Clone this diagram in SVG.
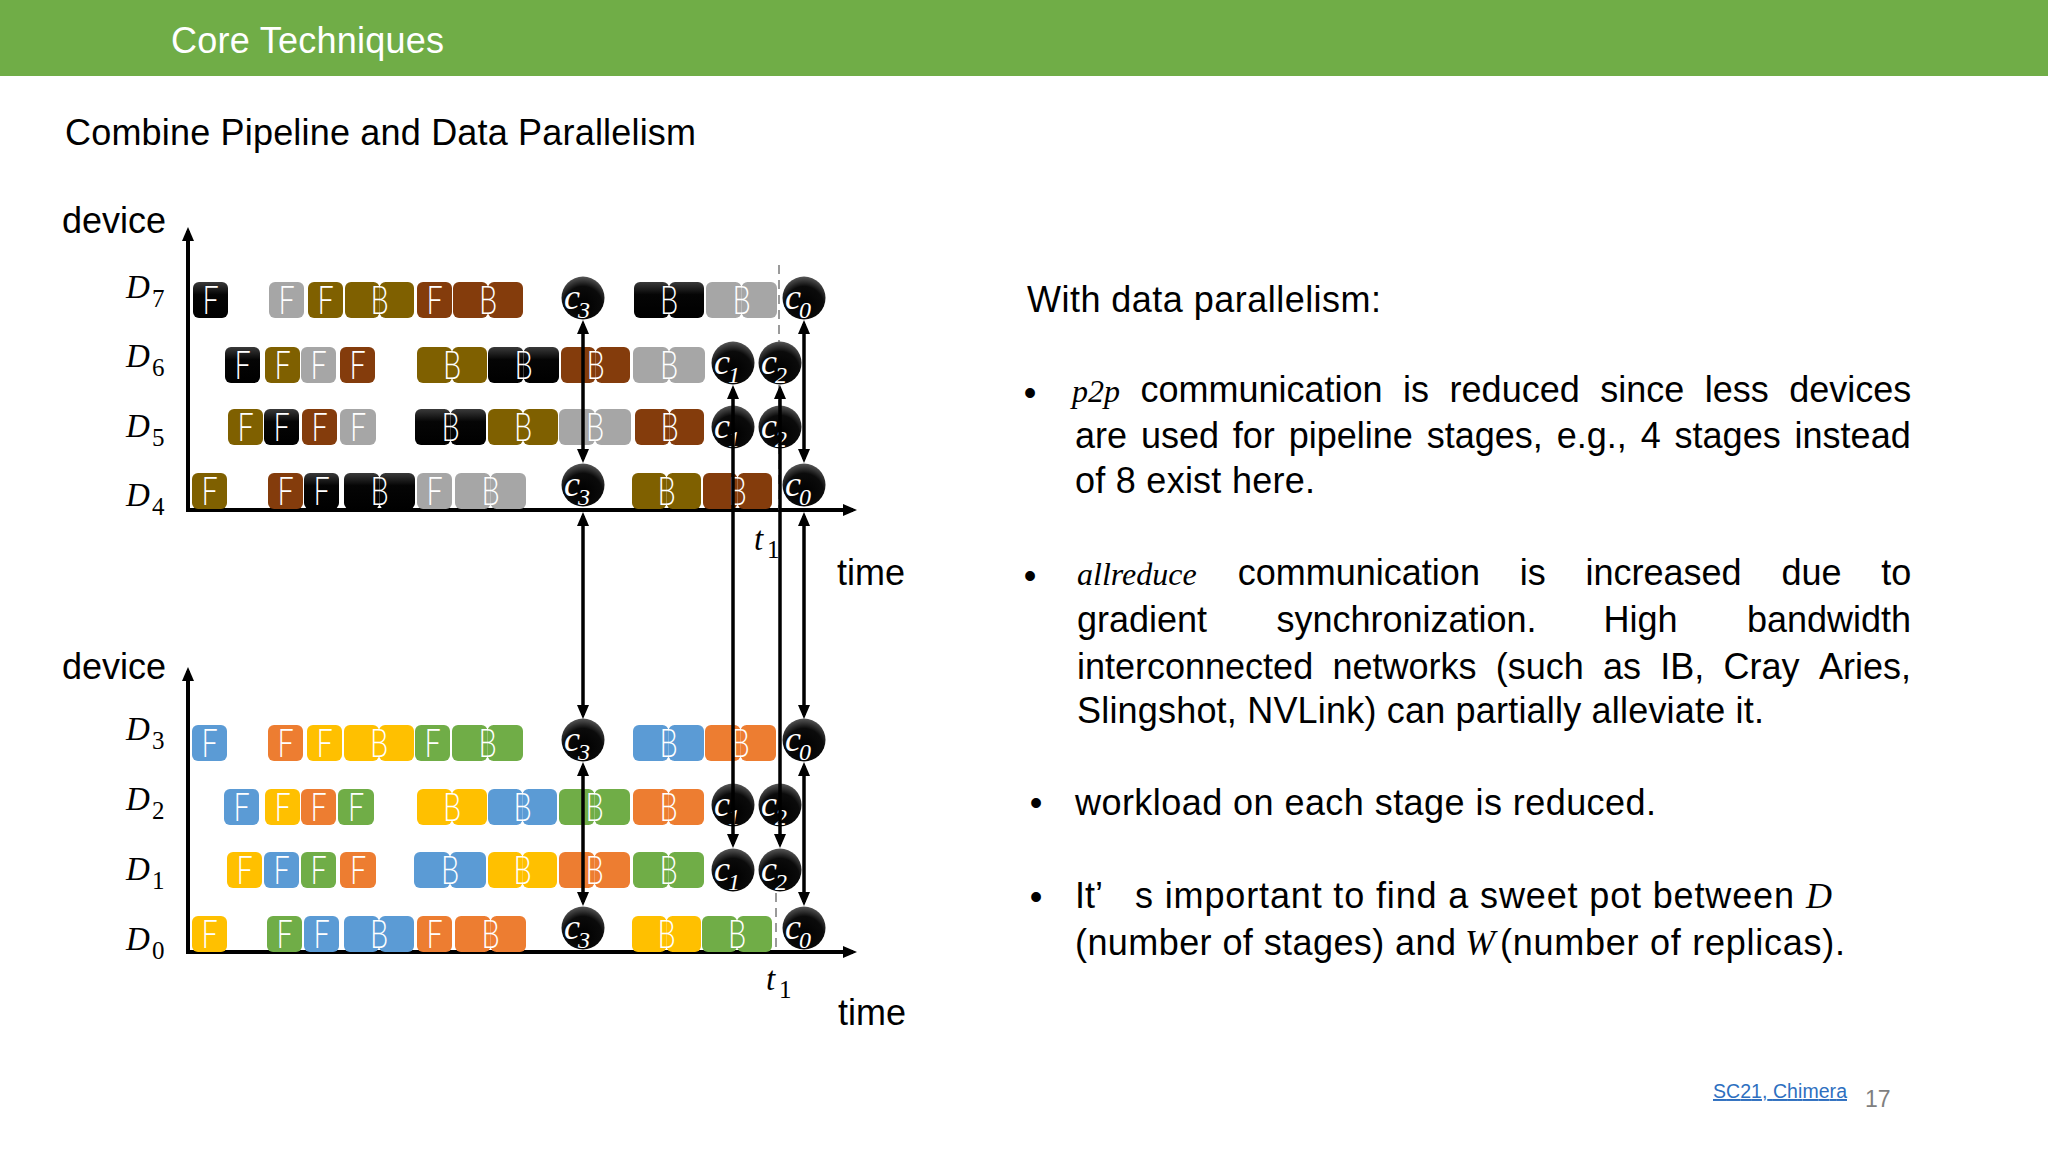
<svg xmlns="http://www.w3.org/2000/svg" width="2048" height="1152" viewBox="0 0 2048 1152">
<defs>
<linearGradient id="gk" x1="0" y1="0" x2="0" y2="1"><stop offset="0" stop-color="#3a3a3a"/><stop offset="0.35" stop-color="#050505"/><stop offset="1" stop-color="#000"/></linearGradient>
<radialGradient id="gc" cx="0.5" cy="0.68" r="0.75"><stop offset="0" stop-color="#000"/><stop offset="0.6" stop-color="#0b0b0b"/><stop offset="1" stop-color="#6e6e6e"/></radialGradient>
<marker id="ah" viewBox="0 0 14 12" refX="10" refY="6" markerWidth="14" markerHeight="12" markerUnits="userSpaceOnUse" orient="auto-start-reverse"><path d="M0,0 L14,6 L0,12 z" fill="#000"/></marker>
<style>
.k{fill:url(#gk)} .g{fill:#A6A6A6} .o{fill:#7F6000} .r{fill:#843C0C}
.b{fill:#5B9BD5} .or{fill:#ED7D31} .y{fill:#FFC000} .gr{fill:#70AD47}
rect.blk{stroke:none}
.bl{font-family:Lato,"Liberation Sans",sans-serif;font-weight:300;font-size:40px;fill:#fff;text-anchor:middle}
.cc{fill:url(#gc)}
.cl{font-family:"Liberation Serif",serif;font-style:italic;font-size:36px;fill:#fff}
.cs{font-family:"Liberation Serif",serif;font-size:24px;fill:#fff}
.dl{font-family:"Liberation Serif",serif;font-style:italic;font-size:33px;fill:#000}
.ds{font-family:"Liberation Serif",serif;font-style:normal;font-size:25px;fill:#000}
.tx{font-family:"Liberation Sans",sans-serif;font-size:36px;fill:#000}
.it{font-family:"Liberation Serif",serif;font-style:italic;font-size:36px;fill:#000}
.sc{font-family:"Liberation Serif",serif;font-style:italic;font-size:32px;fill:#000}
.ax{stroke:#000;stroke-width:4;fill:none}
.ar{stroke:#000;stroke-width:3.5;fill:none}
.dash{stroke:#9a9a9a;stroke-width:2;stroke-dasharray:9 6;fill:none}
</style>
</defs>
<rect width="2048" height="1152" fill="#fff"/>
<g id="header">
<rect x="0" y="0" width="2048" height="76" fill="#70AD47"/>
<text x="171" y="53" font-family="Liberation Sans, sans-serif" font-size="36" fill="#fff" textLength="273">Core Techniques</text>
</g>
<text id="title" class="tx" x="65" y="145" textLength="631">Combine Pipeline and Data Parallelism</text>

<g id="axes">
<text class="tx" x="62" y="233" textLength="104">device</text>
<text class="tx" x="62" y="679" textLength="104">device</text>
<text class="tx" x="837" y="585">time</text>
<text class="tx" x="838" y="1025">time</text>
<line class="ax" x1="188" y1="510" x2="853" y2="510" marker-end="url(#ah)"/>
<line class="ax" x1="188" y1="512" x2="188" y2="231" marker-end="url(#ah)"/>
<line class="ax" x1="188" y1="952" x2="853" y2="952" marker-end="url(#ah)"/>
<line class="ax" x1="188" y1="954" x2="188" y2="671" marker-end="url(#ah)"/>
<text class="dl" x="126" y="298">D<tspan class="ds" x="152" y="307">7</tspan></text>
<text class="dl" x="126" y="367">D<tspan class="ds" x="152" y="376">6</tspan></text>
<text class="dl" x="126" y="437">D<tspan class="ds" x="152" y="446">5</tspan></text>
<text class="dl" x="126" y="506">D<tspan class="ds" x="152" y="515">4</tspan></text>
<text class="dl" x="126" y="740">D<tspan class="ds" x="152" y="749">3</tspan></text>
<text class="dl" x="126" y="810">D<tspan class="ds" x="152" y="819">2</tspan></text>
<text class="dl" x="126" y="880">D<tspan class="ds" x="152" y="889">1</tspan></text>
<text class="dl" x="126" y="950">D<tspan class="ds" x="152" y="959">0</tspan></text>
<text class="dl" x="754" y="550" font-size="38">t<tspan class="ds" x="767" y="558">1</tspan></text>
<text class="dl" x="766" y="990" font-size="38">t<tspan class="ds" x="779" y="998">1</tspan></text>
<line class="dash" x1="779" y1="265" x2="779" y2="510"/>
<line class="dash" x1="776" y1="893" x2="776" y2="952"/>
</g>

<g id="row-D7">
<g id="d7-1"><rect class="blk k" x="193" y="282" width="35" height="36" rx="6"/><text class="bl" transform="translate(210.5,314) scale(0.72,1)">F</text></g>
<g id="d7-2"><rect class="blk g" x="269" y="282" width="35" height="36" rx="6"/><text class="bl" transform="translate(286.5,314) scale(0.72,1)">F</text></g>
<g id="d7-3"><rect class="blk o" x="308" y="282" width="35" height="36" rx="6"/><text class="bl" transform="translate(325.5,314) scale(0.72,1)">F</text></g>
<g id="d7-4"><rect class="blk o" x="345" y="282" width="34.5" height="36" rx="6"/><rect class="blk o" x="379.5" y="282" width="34.5" height="36" rx="6"/><text class="bl" transform="translate(379.5,314) scale(0.72,1)">B</text></g>
<g id="d7-5"><rect class="blk r" x="417" y="282" width="35" height="36" rx="6"/><text class="bl" transform="translate(434.5,314) scale(0.72,1)">F</text></g>
<g id="d7-6"><rect class="blk r" x="453" y="282" width="35" height="36" rx="6"/><rect class="blk r" x="488" y="282" width="35" height="36" rx="6"/><text class="bl" transform="translate(488,314) scale(0.72,1)">B</text></g>
<g id="d7-c3"><circle class="cc" cx="583" cy="298" r="21.5"/><text class="cl" x="564" y="309">c<tspan class="cs" x="578" y="318">3</tspan></text></g>
<g id="d7-7"><rect class="blk k" x="634" y="282" width="35" height="36" rx="6"/><rect class="blk k" x="669" y="282" width="35" height="36" rx="6"/><text class="bl" transform="translate(669,314) scale(0.72,1)">B</text></g>
<g id="d7-8"><rect class="blk g" x="706" y="282" width="35.5" height="36" rx="6"/><rect class="blk g" x="741.5" y="282" width="35.5" height="36" rx="6"/><text class="bl" transform="translate(741.5,314) scale(0.72,1)">B</text></g>
<g id="d7-c0"><circle class="cc" cx="804" cy="298" r="21.5"/><text class="cl" x="785" y="309">c<tspan class="cs" x="799" y="318">0</tspan></text></g>
</g>

<g id="row-D6">
<g id="d6-1"><rect class="blk k" x="225" y="347" width="35" height="36" rx="6"/><text class="bl" transform="translate(242.5,379) scale(0.72,1)">F</text></g>
<g id="d6-2"><rect class="blk o" x="265" y="347" width="35" height="36" rx="6"/><text class="bl" transform="translate(282.5,379) scale(0.72,1)">F</text></g>
<g id="d6-3"><rect class="blk g" x="301" y="347" width="35" height="36" rx="6"/><text class="bl" transform="translate(318.5,379) scale(0.72,1)">F</text></g>
<g id="d6-4"><rect class="blk r" x="340" y="347" width="35" height="36" rx="6"/><text class="bl" transform="translate(357.5,379) scale(0.72,1)">F</text></g>
<g id="d6-5"><rect class="blk o" x="417" y="347" width="35" height="36" rx="6"/><rect class="blk o" x="452" y="347" width="35" height="36" rx="6"/><text class="bl" transform="translate(452,379) scale(0.72,1)">B</text></g>
<g id="d6-6"><rect class="blk k" x="488" y="347" width="35.5" height="36" rx="6"/><rect class="blk k" x="523.5" y="347" width="35.5" height="36" rx="6"/><text class="bl" transform="translate(523.5,379) scale(0.72,1)">B</text></g>
<g id="d6-7"><rect class="blk r" x="561" y="347" width="34.5" height="36" rx="6"/><rect class="blk r" x="595.5" y="347" width="34.5" height="36" rx="6"/><text class="bl" transform="translate(595.5,379) scale(0.72,1)">B</text></g>
<g id="d6-8"><rect class="blk g" x="633" y="347" width="36" height="36" rx="6"/><rect class="blk g" x="669" y="347" width="36" height="36" rx="6"/><text class="bl" transform="translate(669,379) scale(0.72,1)">B</text></g>
<g id="d6-c1"><circle class="cc" cx="733" cy="363" r="21.5"/><text class="cl" x="714" y="374">c<tspan class="cs" x="728" y="383">1</tspan></text></g>
<g id="d6-c2"><circle class="cc" cx="780" cy="363" r="21.5"/><text class="cl" x="761" y="374">c<tspan class="cs" x="775" y="383">2</tspan></text></g>
</g>

<g id="row-D5">
<g id="d5-1"><rect class="blk o" x="228" y="409" width="35" height="36" rx="6"/><text class="bl" transform="translate(245.5,441) scale(0.72,1)">F</text></g>
<g id="d5-2"><rect class="blk k" x="264" y="409" width="35" height="36" rx="6"/><text class="bl" transform="translate(281.5,441) scale(0.72,1)">F</text></g>
<g id="d5-3"><rect class="blk r" x="302" y="409" width="35" height="36" rx="6"/><text class="bl" transform="translate(319.5,441) scale(0.72,1)">F</text></g>
<g id="d5-4"><rect class="blk g" x="340" y="409" width="36" height="36" rx="6"/><text class="bl" transform="translate(358,441) scale(0.72,1)">F</text></g>
<g id="d5-5"><rect class="blk k" x="415" y="409" width="35.5" height="36" rx="6"/><rect class="blk k" x="450.5" y="409" width="35.5" height="36" rx="6"/><text class="bl" transform="translate(450.5,441) scale(0.72,1)">B</text></g>
<g id="d5-6"><rect class="blk o" x="488" y="409" width="35" height="36" rx="6"/><rect class="blk o" x="523" y="409" width="35" height="36" rx="6"/><text class="bl" transform="translate(523,441) scale(0.72,1)">B</text></g>
<g id="d5-7"><rect class="blk g" x="559" y="409" width="36" height="36" rx="6"/><rect class="blk g" x="595" y="409" width="36" height="36" rx="6"/><text class="bl" transform="translate(595,441) scale(0.72,1)">B</text></g>
<g id="d5-8"><rect class="blk r" x="635" y="409" width="34.5" height="36" rx="6"/><rect class="blk r" x="669.5" y="409" width="34.5" height="36" rx="6"/><text class="bl" transform="translate(669.5,441) scale(0.72,1)">B</text></g>
<g id="d5-c1"><circle class="cc" cx="733" cy="427" r="21.5"/><text class="cl" x="714" y="438">c<tspan class="cs" x="728" y="447">1</tspan></text></g>
<g id="d5-c2"><circle class="cc" cx="780" cy="427" r="21.5"/><text class="cl" x="761" y="438">c<tspan class="cs" x="775" y="447">2</tspan></text></g>
</g>

<g id="row-D4">
<g id="d4-1"><rect class="blk o" x="192" y="473" width="35" height="36" rx="6"/><text class="bl" transform="translate(209.5,505) scale(0.72,1)">F</text></g>
<g id="d4-2"><rect class="blk r" x="268" y="473" width="35" height="36" rx="6"/><text class="bl" transform="translate(285.5,505) scale(0.72,1)">F</text></g>
<g id="d4-3"><rect class="blk k" x="304" y="473" width="35" height="36" rx="6"/><text class="bl" transform="translate(321.5,505) scale(0.72,1)">F</text></g>
<g id="d4-4"><rect class="blk k" x="344" y="473" width="35.5" height="36" rx="6"/><rect class="blk k" x="379.5" y="473" width="35.5" height="36" rx="6"/><text class="bl" transform="translate(379.5,505) scale(0.72,1)">B</text></g>
<g id="d4-5"><rect class="blk g" x="417" y="473" width="35" height="36" rx="6"/><text class="bl" transform="translate(434.5,505) scale(0.72,1)">F</text></g>
<g id="d4-6"><rect class="blk g" x="455" y="473" width="35.5" height="36" rx="6"/><rect class="blk g" x="490.5" y="473" width="35.5" height="36" rx="6"/><text class="bl" transform="translate(490.5,505) scale(0.72,1)">B</text></g>
<g id="d4-c3"><circle class="cc" cx="583" cy="485" r="21.5"/><text class="cl" x="564" y="496">c<tspan class="cs" x="578" y="505">3</tspan></text></g>
<g id="d4-7"><rect class="blk o" x="632" y="473" width="34.5" height="36" rx="6"/><rect class="blk o" x="666.5" y="473" width="34.5" height="36" rx="6"/><text class="bl" transform="translate(666.5,505) scale(0.72,1)">B</text></g>
<g id="d4-8"><rect class="blk r" x="703" y="473" width="34.5" height="36" rx="6"/><rect class="blk r" x="737.5" y="473" width="34.5" height="36" rx="6"/><text class="bl" transform="translate(737.5,505) scale(0.72,1)">B</text></g>
<g id="d4-c0"><circle class="cc" cx="804" cy="485" r="21.5"/><text class="cl" x="785" y="496">c<tspan class="cs" x="799" y="505">0</tspan></text></g>
</g>

<g id="row-D3">
<g id="d3-1"><rect class="blk b" x="192" y="725" width="35" height="36" rx="6"/><text class="bl" transform="translate(209.5,757) scale(0.72,1)">F</text></g>
<g id="d3-2"><rect class="blk or" x="268" y="725" width="35" height="36" rx="6"/><text class="bl" transform="translate(285.5,757) scale(0.72,1)">F</text></g>
<g id="d3-3"><rect class="blk y" x="307" y="725" width="35" height="36" rx="6"/><text class="bl" transform="translate(324.5,757) scale(0.72,1)">F</text></g>
<g id="d3-4"><rect class="blk y" x="344" y="725" width="35" height="36" rx="6"/><rect class="blk y" x="379" y="725" width="35" height="36" rx="6"/><text class="bl" transform="translate(379,757) scale(0.72,1)">B</text></g>
<g id="d3-5"><rect class="blk gr" x="415" y="725" width="35" height="36" rx="6"/><text class="bl" transform="translate(432.5,757) scale(0.72,1)">F</text></g>
<g id="d3-6"><rect class="blk gr" x="452" y="725" width="35.5" height="36" rx="6"/><rect class="blk gr" x="487.5" y="725" width="35.5" height="36" rx="6"/><text class="bl" transform="translate(487.5,757) scale(0.72,1)">B</text></g>
<g id="d3-c3"><circle class="cc" cx="583" cy="740" r="21.5"/><text class="cl" x="564" y="751">c<tspan class="cs" x="578" y="760">3</tspan></text></g>
<g id="d3-7"><rect class="blk b" x="633" y="725" width="35.5" height="36" rx="6"/><rect class="blk b" x="668.5" y="725" width="35.5" height="36" rx="6"/><text class="bl" transform="translate(668.5,757) scale(0.72,1)">B</text></g>
<g id="d3-8"><rect class="blk or" x="705" y="725" width="35.5" height="36" rx="6"/><rect class="blk or" x="740.5" y="725" width="35.5" height="36" rx="6"/><text class="bl" transform="translate(740.5,757) scale(0.72,1)">B</text></g>
<g id="d3-c0"><circle class="cc" cx="804" cy="740" r="21.5"/><text class="cl" x="785" y="751">c<tspan class="cs" x="799" y="760">0</tspan></text></g>
</g>

<g id="row-D2">
<g id="d2-1"><rect class="blk b" x="224" y="789" width="35" height="36" rx="6"/><text class="bl" transform="translate(241.5,821) scale(0.72,1)">F</text></g>
<g id="d2-2"><rect class="blk y" x="265" y="789" width="35" height="36" rx="6"/><text class="bl" transform="translate(282.5,821) scale(0.72,1)">F</text></g>
<g id="d2-3"><rect class="blk or" x="301" y="789" width="35" height="36" rx="6"/><text class="bl" transform="translate(318.5,821) scale(0.72,1)">F</text></g>
<g id="d2-4"><rect class="blk gr" x="338" y="789" width="36" height="36" rx="6"/><text class="bl" transform="translate(356,821) scale(0.72,1)">F</text></g>
<g id="d2-5"><rect class="blk y" x="417" y="789" width="35" height="36" rx="6"/><rect class="blk y" x="452" y="789" width="35" height="36" rx="6"/><text class="bl" transform="translate(452,821) scale(0.72,1)">B</text></g>
<g id="d2-6"><rect class="blk b" x="488" y="789" width="34.5" height="36" rx="6"/><rect class="blk b" x="522.5" y="789" width="34.5" height="36" rx="6"/><text class="bl" transform="translate(522.5,821) scale(0.72,1)">B</text></g>
<g id="d2-7"><rect class="blk gr" x="559" y="789" width="35.5" height="36" rx="6"/><rect class="blk gr" x="594.5" y="789" width="35.5" height="36" rx="6"/><text class="bl" transform="translate(594.5,821) scale(0.72,1)">B</text></g>
<g id="d2-8"><rect class="blk or" x="633" y="789" width="35.5" height="36" rx="6"/><rect class="blk or" x="668.5" y="789" width="35.5" height="36" rx="6"/><text class="bl" transform="translate(668.5,821) scale(0.72,1)">B</text></g>
<g id="d2-c1"><circle class="cc" cx="733" cy="805" r="21.5"/><text class="cl" x="714" y="816">c<tspan class="cs" x="728" y="825">1</tspan></text></g>
<g id="d2-c2"><circle class="cc" cx="780" cy="805" r="21.5"/><text class="cl" x="761" y="816">c<tspan class="cs" x="775" y="825">2</tspan></text></g>
</g>

<g id="row-D1">
<g id="d1-1"><rect class="blk y" x="227" y="852" width="35" height="36" rx="6"/><text class="bl" transform="translate(244.5,884) scale(0.72,1)">F</text></g>
<g id="d1-2"><rect class="blk b" x="264" y="852" width="35" height="36" rx="6"/><text class="bl" transform="translate(281.5,884) scale(0.72,1)">F</text></g>
<g id="d1-3"><rect class="blk gr" x="301" y="852" width="35" height="36" rx="6"/><text class="bl" transform="translate(318.5,884) scale(0.72,1)">F</text></g>
<g id="d1-4"><rect class="blk or" x="340" y="852" width="36" height="36" rx="6"/><text class="bl" transform="translate(358,884) scale(0.72,1)">F</text></g>
<g id="d1-5"><rect class="blk b" x="414" y="852" width="36" height="36" rx="6"/><rect class="blk b" x="450" y="852" width="36" height="36" rx="6"/><text class="bl" transform="translate(450,884) scale(0.72,1)">B</text></g>
<g id="d1-6"><rect class="blk y" x="488" y="852" width="34.5" height="36" rx="6"/><rect class="blk y" x="522.5" y="852" width="34.5" height="36" rx="6"/><text class="bl" transform="translate(522.5,884) scale(0.72,1)">B</text></g>
<g id="d1-7"><rect class="blk or" x="559" y="852" width="35.5" height="36" rx="6"/><rect class="blk or" x="594.5" y="852" width="35.5" height="36" rx="6"/><text class="bl" transform="translate(594.5,884) scale(0.72,1)">B</text></g>
<g id="d1-8"><rect class="blk gr" x="633" y="852" width="35.5" height="36" rx="6"/><rect class="blk gr" x="668.5" y="852" width="35.5" height="36" rx="6"/><text class="bl" transform="translate(668.5,884) scale(0.72,1)">B</text></g>
<g id="d1-c1"><circle class="cc" cx="733" cy="870" r="21.5"/><text class="cl" x="714" y="881">c<tspan class="cs" x="728" y="890">1</tspan></text></g>
<g id="d1-c2"><circle class="cc" cx="780" cy="870" r="21.5"/><text class="cl" x="761" y="881">c<tspan class="cs" x="775" y="890">2</tspan></text></g>
</g>

<g id="row-D0">
<g id="d0-1"><rect class="blk y" x="192" y="916" width="35" height="36" rx="6"/><text class="bl" transform="translate(209.5,948) scale(0.72,1)">F</text></g>
<g id="d0-2"><rect class="blk gr" x="267" y="916" width="35" height="36" rx="6"/><text class="bl" transform="translate(284.5,948) scale(0.72,1)">F</text></g>
<g id="d0-3"><rect class="blk b" x="304" y="916" width="35" height="36" rx="6"/><text class="bl" transform="translate(321.5,948) scale(0.72,1)">F</text></g>
<g id="d0-4"><rect class="blk b" x="344" y="916" width="35" height="36" rx="6"/><rect class="blk b" x="379" y="916" width="35" height="36" rx="6"/><text class="bl" transform="translate(379,948) scale(0.72,1)">B</text></g>
<g id="d0-5"><rect class="blk or" x="417" y="916" width="35" height="36" rx="6"/><text class="bl" transform="translate(434.5,948) scale(0.72,1)">F</text></g>
<g id="d0-6"><rect class="blk or" x="455" y="916" width="35.5" height="36" rx="6"/><rect class="blk or" x="490.5" y="916" width="35.5" height="36" rx="6"/><text class="bl" transform="translate(490.5,948) scale(0.72,1)">B</text></g>
<g id="d0-c3"><circle class="cc" cx="583" cy="928" r="21.5"/><text class="cl" x="564" y="939">c<tspan class="cs" x="578" y="948">3</tspan></text></g>
<g id="d0-7"><rect class="blk y" x="632" y="916" width="34.5" height="36" rx="6"/><rect class="blk y" x="666.5" y="916" width="34.5" height="36" rx="6"/><text class="bl" transform="translate(666.5,948) scale(0.72,1)">B</text></g>
<g id="d0-8"><rect class="blk gr" x="702" y="916" width="35" height="36" rx="6"/><rect class="blk gr" x="737" y="916" width="35" height="36" rx="6"/><text class="bl" transform="translate(737,948) scale(0.72,1)">B</text></g>
<g id="d0-c0"><circle class="cc" cx="804" cy="928" r="21.5"/><text class="cl" x="785" y="939">c<tspan class="cs" x="799" y="948">0</tspan></text></g>
</g>

<g id="connectors">
<line class="ar" x1="583" y1="324" x2="583" y2="459" marker-start="url(#ah)" marker-end="url(#ah)"/>
<line class="ar" x1="583" y1="516" x2="583" y2="715" marker-start="url(#ah)" marker-end="url(#ah)"/>
<line class="ar" x1="583" y1="766" x2="583" y2="902" marker-start="url(#ah)" marker-end="url(#ah)"/>
<line class="ar" x1="733" y1="389" x2="733" y2="844" marker-start="url(#ah)" marker-end="url(#ah)"/>
<line class="ar" x1="780" y1="389" x2="780" y2="844" marker-start="url(#ah)" marker-end="url(#ah)"/>
<line class="ar" x1="804" y1="324" x2="804" y2="459" marker-start="url(#ah)" marker-end="url(#ah)"/>
<line class="ar" x1="804" y1="516" x2="804" y2="715" marker-start="url(#ah)" marker-end="url(#ah)"/>
<line class="ar" x1="804" y1="766" x2="804" y2="902" marker-start="url(#ah)" marker-end="url(#ah)"/>
</g>

<g id="notes">
<text class="tx" x="1027" y="312" textLength="354">With data parallelism:</text>
<text class="tx" x="1030" y="405" font-size="24" text-anchor="middle">•</text>
<text class="sc" x="1072" y="402">p2p</text>
<text class="tx" y="402"><tspan x="1140.5">communication</tspan><tspan x="1403.1">is</tspan><tspan x="1449.6">reduced</tspan><tspan x="1600.2">since</tspan><tspan x="1704.7">less</tspan><tspan x="1789.2">devices</tspan></text>
<text class="tx" y="448"><tspan x="1075">are</tspan><tspan x="1140.9">used</tspan><tspan x="1232.8">for</tspan><tspan x="1288.7">pipeline</tspan><tspan x="1426.7">stages,</tspan><tspan x="1556.7">e.g.,</tspan><tspan x="1640.7">4</tspan><tspan x="1674.6">stages</tspan><tspan x="1794.6">instead</tspan></text>
<text class="tx" x="1075" y="493" textLength="240">of 8 exist here.</text>

<text class="tx" x="1030" y="588" font-size="24" text-anchor="middle">•</text>
<text class="sc" x="1077" y="585">allreduce</text>
<text class="tx" y="585"><tspan x="1237.8">communication</tspan><tspan x="1519.7">is</tspan><tspan x="1585.5">increased</tspan><tspan x="1781.4">due</tspan><tspan x="1881.2">to</tspan></text>
<text class="tx" y="632"><tspan x="1077">gradient</tspan><tspan x="1276.4">synchronization.</tspan><tspan x="1603.6">High</tspan><tspan x="1746.9">bandwidth</tspan></text>
<text class="tx" y="679"><tspan x="1077">interconnected</tspan><tspan x="1332.4">networks</tspan><tspan x="1495.7">(such</tspan><tspan x="1603">as</tspan><tspan x="1660.3">IB,</tspan><tspan x="1723.6">Cray</tspan><tspan x="1818.9">Aries,</tspan></text>
<text class="tx" x="1077" y="723" textLength="687">Slingshot, NVLink) can partially alleviate it.</text>

<text class="tx" x="1036" y="815" font-size="34" text-anchor="middle">•</text>
<text class="tx" x="1075" y="815" textLength="581">workload on each stage is reduced.</text>

<text class="tx" x="1036" y="909" font-size="34" text-anchor="middle">•</text>
<text class="tx" x="1075" y="908">It’</text>
<text class="tx" x="1135" y="908" textLength="659">s important to find a sweet pot between</text>
<text class="it" x="1806" y="908">D</text>
<text class="tx" x="1075" y="955" textLength="381">(number of stages) and</text>
<text class="it" x="1465" y="955">W</text>
<text class="tx" x="1500" y="955" textLength="345">(number of replicas).</text>
</g>

<g id="footer">
<text x="1713" y="1098" font-family="Liberation Sans, sans-serif" font-size="19.5" fill="#2E6FBF" text-decoration="underline" textLength="134">SC21, Chimera</text>
<text x="1865" y="1107" font-family="Liberation Sans, sans-serif" font-size="23" fill="#7F7F7F">17</text>
</g>
</svg>
